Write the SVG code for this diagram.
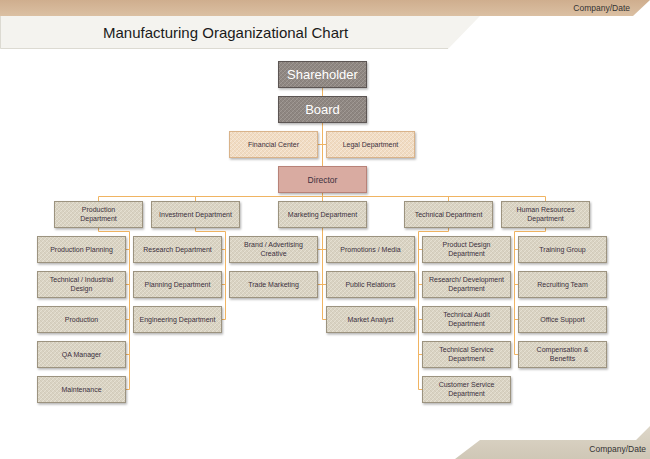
<svg xmlns="http://www.w3.org/2000/svg" width="650" height="459" viewBox="0 0 650 459">
<defs>
<linearGradient id="topbar" x1="0" y1="0" x2="0" y2="1"><stop offset="0" stop-color="#cfae8e"/><stop offset="1" stop-color="#dbc0a3"/></linearGradient>
<linearGradient id="footbar" x1="0" y1="0" x2="0" y2="1"><stop offset="0" stop-color="#ddd6c8"/><stop offset="1" stop-color="#cfc7b6"/></linearGradient>
<pattern id="hBeige" width="4" height="4" patternUnits="userSpaceOnUse"><rect width="4" height="4" fill="#d9d3c3"/><path d="M0,4 L4,0 M-1,1 L1,-1 M3,5 L5,3" stroke="#e8e3d6" stroke-width="0.8"/><path d="M0,0 L4,4" stroke="#cbc4b2" stroke-width="0.6"/></pattern>
<pattern id="hDark" width="4" height="4" patternUnits="userSpaceOnUse"><rect width="4" height="4" fill="#8f8782"/><path d="M0,4 L4,0 M-1,1 L1,-1 M3,5 L5,3" stroke="#a59d98" stroke-width="0.8"/><path d="M0,0 L4,4" stroke="#7f7772" stroke-width="0.6"/></pattern>
<pattern id="hPeach" width="4" height="4" patternUnits="userSpaceOnUse"><rect width="4" height="4" fill="#f1dcc3"/><path d="M0,4 L4,0 M-1,1 L1,-1 M3,5 L5,3" stroke="#f8eadb" stroke-width="0.8"/><path d="M0,0 L4,4" stroke="#e6cdb0" stroke-width="0.6"/></pattern>
<filter id="sh" x="-10%" y="-20%" width="130%" height="160%"><feDropShadow dx="1" dy="1.5" stdDeviation="0.8" flood-color="#000" flood-opacity="0.3"/></filter>
</defs>
<style>
.n rect{fill:url(#hBeige);stroke:#9c937f;stroke-width:1;filter:url(#sh)}
.n text{font-family:"Liberation Sans",Arial,sans-serif;font-size:7px;fill:#3c3040;text-anchor:middle}
.d rect{fill:url(#hDark);stroke:#5c5552;stroke-width:1;filter:url(#sh)}
.d text{font-family:"Liberation Sans",Arial,sans-serif;font-size:13px;fill:#ffffff;text-anchor:middle}
.p rect{fill:url(#hPeach);stroke:#d9b38a;stroke-width:1;filter:url(#sh)}
.p text{font-family:"Liberation Sans",Arial,sans-serif;font-size:7px;fill:#3c3040;text-anchor:middle}
.r rect{fill:#d9aba1;stroke:#b88278;stroke-width:1;filter:url(#sh)}
.r text{font-family:"Liberation Sans",Arial,sans-serif;font-size:8.5px;fill:#3c3040;text-anchor:middle}
.c path{fill:none;stroke:#f0b462;stroke-width:1}
.hdr{font-family:"Liberation Sans",Arial,sans-serif;font-size:8.5px;fill:#333333}
</style>
<rect width="650" height="459" fill="#ffffff"/>
<g id="header">
<polygon points="0,0 650,0 633,16 0,16" fill="url(#topbar)"/>
<text class="hdr" x="630" y="11" text-anchor="end">Company/Date</text>
<polygon points="0,16 480,16 448,49 0,49" fill="#f4f3ef"/>
<path d="M0.5,16 V48.5 H448" fill="none" stroke="#dcdad2" stroke-width="1"/>
<text x="103" y="38" font-family="'Liberation Sans',Arial,sans-serif" font-size="15" fill="#1a1a1a">Manufacturing Oraganizational Chart</text>
</g>
<g id="footer">
<polygon points="455,459 480,440 636,440 650,426 650,459" fill="url(#footbar)"/>
<text class="hdr" x="646" y="452" text-anchor="end">Company/Date</text>
</g>
<g id="connectors" class="c">
<path d="M322.5,88 V96 M322.5,122 V166 M322.5,192 V201 M317,144.5 H326"/>
<path d="M98.5,196.5 H545.5 M98.5,196.5 V201 M195.5,196.5 V201 M448.5,196.5 V201 M545.5,196.5 V201"/>
<path d="M98.5,227 V231.5 H129.5 V389.5 M125,249.5 H129.5 M125,284.5 H129.5 M125,319.5 H129.5 M125,354.5 H129.5 M125,389.5 H129.5"/>
<path d="M195.5,227 V231.5 H225.5 V319.5 M221,249.5 H225.5 M221,284.5 H225.5 M221,319.5 H225.5"/>
<path d="M322.5,227 V319.5 H326 M317,249.5 H326 M317,284.5 H326"/>
<path d="M448.5,227 V231.5 H418.5 V389.5 H422 M418.5,249.5 H422 M418.5,284.5 H422 M418.5,319.5 H422 M418.5,354.5 H422"/>
<path d="M545.5,227 V231.5 H514.5 V354.5 H518 M514.5,249.5 H518 M514.5,284.5 H518 M514.5,319.5 H518"/>
</g>
<g id="shareholder" class="d"><rect x="278.5" y="61.5" width="88" height="26"/><text x="322.5" y="79">Shareholder</text></g>
<g id="board" class="d"><rect x="278.5" y="96.5" width="88" height="26"/><text x="322.5" y="114">Board</text></g>
<g id="financial-center" class="p"><rect x="229.5" y="131.5" width="88" height="26"/><text x="273.5" y="147">Financial Center</text></g>
<g id="legal-department" class="p"><rect x="326.5" y="131.5" width="88" height="26"/><text x="370.5" y="147">Legal Department</text></g>
<g id="director" class="r"><rect x="278.5" y="166.5" width="88" height="26"/><text x="322.5" y="182.5">Director</text></g>
<g id="production-department" class="n"><rect x="54.5" y="201.5" width="88" height="26"/><text x="98.5" y="212">Production</text><text x="98.5" y="221">Department</text></g>
<g id="investment-department" class="n"><rect x="151.5" y="201.5" width="88" height="26"/><text x="195.5" y="217">Investment Department</text></g>
<g id="marketing-department" class="n"><rect x="278.5" y="201.5" width="88" height="26"/><text x="322.5" y="217">Marketing Department</text></g>
<g id="technical-department" class="n"><rect x="404.5" y="201.5" width="88" height="26"/><text x="448.5" y="217">Technical Department</text></g>
<g id="hr-department" class="n"><rect x="501.5" y="201.5" width="88" height="26"/><text x="545.5" y="212">Human Resources</text><text x="545.5" y="221">Department</text></g>
<g id="production-planning" class="n"><rect x="37.5" y="236.5" width="88" height="26"/><text x="81.5" y="252">Production Planning</text></g>
<g id="technical-industrial-design" class="n"><rect x="37.5" y="271.5" width="88" height="26"/><text x="81.5" y="282">Technical / Industrial</text><text x="81.5" y="291">Design</text></g>
<g id="production" class="n"><rect x="37.5" y="306.5" width="88" height="26"/><text x="81.5" y="322">Production</text></g>
<g id="qa-manager" class="n"><rect x="37.5" y="341.5" width="88" height="26"/><text x="81.5" y="357">QA Manager</text></g>
<g id="maintenance" class="n"><rect x="37.5" y="376.5" width="88" height="26"/><text x="81.5" y="392">Maintenance</text></g>
<g id="research-department" class="n"><rect x="133.5" y="236.5" width="88" height="26"/><text x="177.5" y="252">Research Department</text></g>
<g id="planning-department" class="n"><rect x="133.5" y="271.5" width="88" height="26"/><text x="177.5" y="287">Planning Department</text></g>
<g id="engineering-department" class="n"><rect x="133.5" y="306.5" width="88" height="26"/><text x="177.5" y="322">Engineering Department</text></g>
<g id="brand-advertising" class="n"><rect x="229.5" y="236.5" width="88" height="26"/><text x="273.5" y="247">Brand / Advertising</text><text x="273.5" y="256">Creative</text></g>
<g id="trade-marketing" class="n"><rect x="229.5" y="271.5" width="88" height="26"/><text x="273.5" y="287">Trade Marketing</text></g>
<g id="promotions-media" class="n"><rect x="326.5" y="236.5" width="88" height="26"/><text x="370.5" y="252">Promotions / Media</text></g>
<g id="public-relations" class="n"><rect x="326.5" y="271.5" width="88" height="26"/><text x="370.5" y="287">Public Relations</text></g>
<g id="market-analyst" class="n"><rect x="326.5" y="306.5" width="88" height="26"/><text x="370.5" y="322">Market Analyst</text></g>
<g id="product-design" class="n"><rect x="422.5" y="236.5" width="88" height="26"/><text x="466.5" y="247">Product Design</text><text x="466.5" y="256">Department</text></g>
<g id="research-development" class="n"><rect x="422.5" y="271.5" width="88" height="26"/><text x="466.5" y="282">Research/ Development</text><text x="466.5" y="291">Department</text></g>
<g id="technical-audit" class="n"><rect x="422.5" y="306.5" width="88" height="26"/><text x="466.5" y="317">Technical Audit</text><text x="466.5" y="326">Department</text></g>
<g id="technical-service" class="n"><rect x="422.5" y="341.5" width="88" height="26"/><text x="466.5" y="352">Technical Service</text><text x="466.5" y="361">Department</text></g>
<g id="customer-service" class="n"><rect x="422.5" y="376.5" width="88" height="26"/><text x="466.5" y="387">Customer Service</text><text x="466.5" y="396">Department</text></g>
<g id="training-group" class="n"><rect x="518.5" y="236.5" width="88" height="26"/><text x="562.5" y="252">Training Group</text></g>
<g id="recruiting-team" class="n"><rect x="518.5" y="271.5" width="88" height="26"/><text x="562.5" y="287">Recruiting Team</text></g>
<g id="office-support" class="n"><rect x="518.5" y="306.5" width="88" height="26"/><text x="562.5" y="322">Office Support</text></g>
<g id="compensation-benefits" class="n"><rect x="518.5" y="341.5" width="88" height="26"/><text x="562.5" y="352">Compensation &amp;</text><text x="562.5" y="361">Benefits</text></g>
</svg>
